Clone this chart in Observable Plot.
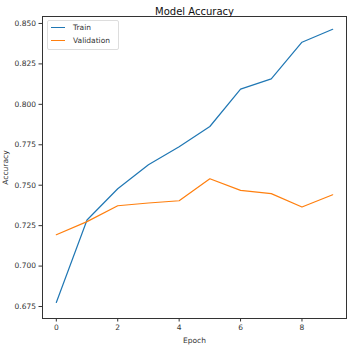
<!DOCTYPE html>
<html>
<head>
<meta charset="utf-8">
<script src="https://cdn.jsdelivr.net/npm/d3@7"></script>
<script src="https://cdn.jsdelivr.net/npm/@observablehq/plot@0.6"></script>
<style>
  html, body { margin: 0; padding: 0; background: #fff; }
  #wrap { position: relative; width: 350px; height: 346px; font-family: "DejaVu Sans", sans-serif; }
  #legend { position: absolute; left: 47px; top: 20px; width: 70px; height: 28px; border: 1px solid #ddd; border-radius: 2px; background: rgba(255,255,255,0.8); font-size: 7.5px; color: #333; }
  .item { position: absolute; left: 3px; display: flex; align-items: center; }
  .sw { width: 14px; height: 0; border-top: 1px solid; margin-right: 8px; }
</style>
</head>
<body>
<div id="wrap"></div>
<script>
const epochs = [0, 1, 2, 3, 4, 5, 6, 7, 8, 9];
const trainAcc = [0.6775, 0.7285, 0.7478, 0.7627, 0.7738, 0.7863, 0.8094, 0.8157, 0.8384, 0.8464];
const valAcc = [0.7194, 0.7275, 0.7373, 0.7390, 0.7404, 0.7540, 0.7468, 0.7448, 0.7365, 0.7441];
const seriesNames = ["Train", "Validation"];
const seriesColors = ["#1f77b4", "#ff7f0e"];
const yTicks = [0.675, 0.700, 0.725, 0.750, 0.775, 0.800, 0.825, 0.850];
const xTicks = [0, 2, 4, 6, 8];
const titleText = "Model Accuracy";

const data = [];
epochs.forEach((e, i) => {
  data.push({epoch: e, acc: trainAcc[i], series: seriesNames[0]});
  data.push({epoch: e, acc: valAcc[i], series: seriesNames[1]});
});

const chart = Plot.plot({
  width: 350,
  height: 346,
  marginTop: 16,
  marginBottom: 28,
  marginLeft: 42,
  marginRight: 4,
  style: {fontFamily: "DejaVu Sans, sans-serif", fontSize: "7.5px", color: "#333", background: "#fff"},
  x: {domain: [-0.45, 9.45]},
  y: {domain: [0.6676, 0.8543]},
  color: {domain: seriesNames, range: seriesColors},
  marks: [
    Plot.frame({stroke: "#333", strokeWidth: 1}),
    Plot.axisX({ticks: xTicks, tickSize: 3.5, tickPadding: 3, label: "Epoch", labelAnchor: "center", labelArrow: "none", labelOffset: 24, fontSize: 7.5}),
    Plot.axisY({ticks: yTicks, tickFormat: d3.format(".3f"), tickSize: 3.5, tickPadding: 3, label: "Accuracy", labelAnchor: "center", labelArrow: "none", labelOffset: 40, fontSize: 7.5}),
    Plot.line(data, {x: "epoch", y: "acc", stroke: "series", z: "series", strokeWidth: 1.2}),
    Plot.text([titleText], {frameAnchor: "top", dy: -9, text: d => d, fontSize: 10, fill: "#111"})
  ]
});
const wrap = document.getElementById("wrap");
wrap.appendChild(chart);

const legend = document.createElement("div");
legend.id = "legend";
seriesNames.forEach((name, i) => {
  const item = document.createElement("div");
  item.className = "item";
  item.style.top = (2 + i * 13) + "px";
  item.innerHTML = `<span class="sw" style="border-color:${seriesColors[i]}"></span><span>${name}</span>`;
  legend.appendChild(item);
});
wrap.appendChild(legend);
</script>
</body>
</html>
